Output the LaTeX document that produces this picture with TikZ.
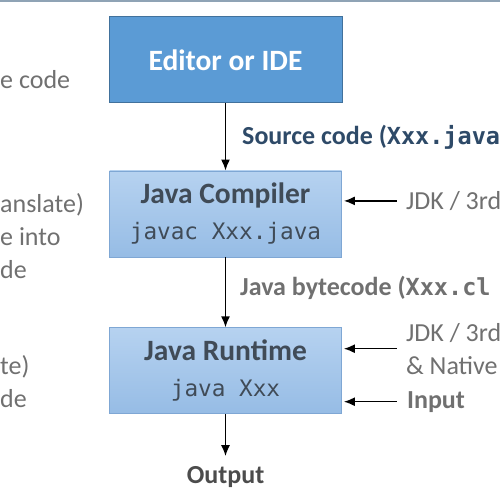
\documentclass[tikz,border=0pt]{standalone}
\usepackage{fontspec}
\setmainfont{Carlito}
\setmonofont{DejaVu Sans Mono}
\usepackage{tikz}
\usetikzlibrary{arrows.meta,positioning}
\usepackage{xcolor}
\definecolor{edfill}{HTML}{5B9BD5}
\definecolor{eddraw}{HTML}{41719C}
\definecolor{bxtop}{HTML}{B6D2F0}
\definecolor{bxbot}{HTML}{96BCE5}
\definecolor{bxdraw}{HTML}{7FA7D4}
\definecolor{bxtext}{HTML}{404B57}
\definecolor{srctext}{HTML}{2E4A68}
\definecolor{graytext}{HTML}{707070}
\definecolor{topline}{HTML}{8FA3B5}

\begin{document}
\begin{tikzpicture}[
    x=1pt, y=-1pt,
    font=\fontsize{26}{33}\selectfont,
    edbox/.style={draw=eddraw, fill=edfill, line width=1pt, minimum width=233pt, minimum height=86pt,
      text=white, font=\fontsize{29.5}{33}\selectfont\bfseries},
    stepbox/.style={draw=bxdraw, top color=bxtop, bottom color=bxbot, line width=0.8pt,
      minimum width=232pt, minimum height=86pt, align=center, text=bxtext,
      font=\fontsize{29.5}{36}\selectfont},
    lbl/.style={inner sep=0pt, align=left, text=graytext},
    arr/.style={-{Latex[length=11pt, width=9pt]}, line width=1.4pt}
  ]
    \useasboundingbox (0,0) rectangle (500,500);
    \clip (0,0) rectangle (500,500);
    \draw[topline, line width=2pt] (0,1) -- (500,1);

    \node[edbox] (edit) at (225.5,60) {Editor or IDE};
    \node[stepbox, below=67pt of edit] (comp) {\textbf{Java Compiler}\\
      {\ttfamily\fontsize{22.7}{36}\selectfont javac Xxx.java}};
    \node[stepbox, below=70pt of comp] (run) {\textbf{Java Runtime}\\
      {\ttfamily\fontsize{22.7}{36}\selectfont java Xxx}};
    \node[lbl, text=black!70, font=\fontsize{26}{33}\selectfont\bfseries, below=52pt of run] (out) {Output};

    % left side notes
    \node[lbl, anchor=west] (wr) at (0,80) {e code};
    \node[lbl, anchor=west] (cl) at (0,236) {anslate)\\e into\\de};
    \node[lbl, anchor=west] (rl) at (0,382) {te)\\de};

    % right side inputs
    \node[lbl, right=64pt of comp.east, yshift=13pt] (jdkc) {JDK / 3rd};
    \node[lbl, right=64pt of run.east, yshift=22pt] (jdkr) {JDK / 3rd\\\& Native};
    \node[lbl, font=\fontsize{26}{33}\selectfont\bfseries, right=65pt of run.east, yshift=-31pt] (inp) {Input};

    \draw[arr] (edit) -- node[lbl, right=16pt, text=srctext, font=\fontsize{26}{33}\selectfont\bfseries]
      {Source code (\texttt{\fontsize{23.5}{33}\selectfont Xxx.java}} (comp);
    \draw[arr] (comp) -- node[lbl, right=14pt, yshift=4pt, font=\fontsize{26}{33}\selectfont\bfseries]
      {Java bytecode (\texttt{\fontsize{23.5}{33}\selectfont Xxx.cl}} (run);
    \draw[arr] (run) -- ([yshift=10pt]out.north);
    \draw[arr] ([xshift=-9pt]jdkc.west) -- ([xshift=2pt]comp.east |- jdkc.west);
    \draw[arr] ([xshift=-9pt]jdkr.west) -- ([xshift=2pt]run.east |- jdkr.west);
    \draw[arr] ([xshift=-10pt]inp.west) -- ([xshift=2pt]run.east |- inp.west);
  \end{tikzpicture}
\end{document}
